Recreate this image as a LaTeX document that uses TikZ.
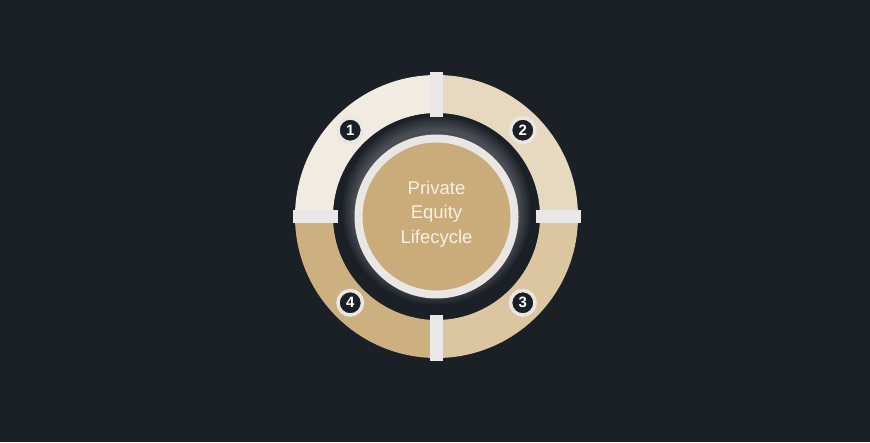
\documentclass[tikz,border=0pt]{standalone}
\usepackage{fontspec}
\setmainfont{Liberation Sans}
\definecolor{bgdark}{HTML}{1B2027}
\definecolor{segA}{HTML}{F1EBE1}
\definecolor{segB}{HTML}{E7D9C0}
\definecolor{segC}{HTML}{DCC6A0}
\definecolor{segD}{HTML}{CDB07F}
\definecolor{coretan}{HTML}{C9AC7A}
\definecolor{ringgrey}{HTML}{E9E6E3}
\definecolor{bargrey}{HTML}{EAE8E6}
\definecolor{textcream}{HTML}{F6F0E6}
\begin{document}
\begin{tikzpicture}[x=1pt,y=1pt,
  badge/.style={circle,fill=bgdark,draw=ringgrey,line width=3.5pt,minimum size=24.5pt,inner sep=0pt,
    text=white,font=\fontsize{15}{15}\selectfont\bfseries},
  core/.style={circle,fill=coretan,draw=ringgrey,line width=8pt,minimum size=156pt,inner sep=0pt},
  bar/.style={fill=bargrey}]
\fill[bgdark] (0,0) rectangle (870,442);
\useasboundingbox (0,0) rectangle (870,442);
\begin{scope}[shift={(436.5,225.5)}]
  % ring
  \foreach \s/\col in {90/segA,0/segB,-90/segC,180/segD}
    \fill[\col] (\s:141.5) arc[start angle=\s,delta angle=90,radius=141.5]
      -- (\s+90:103.5) arc[start angle=\s+90,delta angle=-90,radius=103.5] -- cycle;
  \foreach \a in {0,90,180,270}
    \fill[bar,rotate=\a] (99,-6.5) rectangle (144,6.5);
  % glow
  \foreach \r in {2,4,...,14}
    \fill[white,opacity=0.035] (0,6) circle (80+\r);
  \node[core] (core) at (0,0) {};
  \node[align=center,text=textcream,font=\fontsize{18.5}{24.5}\selectfont] (title) at (0,2.5) {Private\\Equity\\Lifecycle};
  \node[badge] (b1) at (135:122) {1};
  \node[badge] (b2) at (45:122) {2};
  \node[badge] (b3) at (-45:122) {3};
  \node[badge] (b4) at (-135:122) {4};
\end{scope}
\end{tikzpicture}
\end{document}
